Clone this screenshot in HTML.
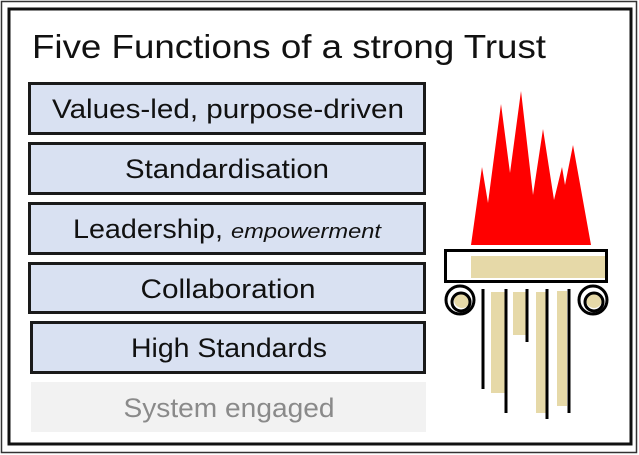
<!DOCTYPE html>
<html><head><style>html,body{margin:0;padding:0;background:#fff;}svg{display:block}</style></head>
<body>
<svg width="639" height="455" viewBox="0 0 639 455" xmlns="http://www.w3.org/2000/svg" font-family="'Liberation Sans', sans-serif">
<rect x="1.5" y="1.5" width="635" height="451" fill="none" stroke="#333" stroke-width="1.5"/>
<rect x="9" y="9" width="622" height="435" fill="none" stroke="#111" stroke-width="3"/>
<text x="32" y="58" font-size="33" fill="#111" textLength="514" lengthAdjust="spacingAndGlyphs">Five Functions of a strong Trust</text>
<g stroke="#1a1a1a" stroke-width="3" fill="#d9e1f2">
<rect x="29.5" y="83.5" width="395" height="50"/>
<rect x="29.5" y="143.5" width="395" height="50"/>
<rect x="29.5" y="203.5" width="395" height="50"/>
<rect x="29.5" y="263.5" width="395" height="49"/>
<rect x="31.5" y="322.5" width="393" height="50"/>
</g>
<rect x="31" y="382" width="395" height="50" fill="#f2f2f2"/>
<g font-size="27" fill="#111" text-anchor="middle">
<text x="228" y="118" textLength="352" lengthAdjust="spacingAndGlyphs">Values-led, purpose-driven</text>
<text x="227" y="178" textLength="204" lengthAdjust="spacingAndGlyphs">Standardisation</text>
<text x="228" y="298" textLength="175" lengthAdjust="spacingAndGlyphs">Collaboration</text>
<text x="229" y="357" textLength="196" lengthAdjust="spacingAndGlyphs">High Standards</text>
<text x="229" y="417" fill="#8a8a8a" textLength="211" lengthAdjust="spacingAndGlyphs">System engaged</text>
</g>
<text x="73" y="238" font-size="27" fill="#111" textLength="150" lengthAdjust="spacingAndGlyphs">Leadership,</text>
<text x="231" y="238" font-size="20" font-style="italic" fill="#111" textLength="150" lengthAdjust="spacingAndGlyphs">empowerment</text>
<polygon fill="#ff0000" points="471,245 482,167 488,203 501,104 510,173 521,91 533,195 543,129 554,200 562,167 565,185 573,145 591,245"/>
<rect x="445.5" y="250.5" width="161" height="31" fill="#fff" stroke="#000" stroke-width="3"/>
<rect x="471" y="256" width="134" height="22" fill="#e6d9a8"/>
<g fill="#e6d9a8">
<rect x="491" y="292" width="16" height="101"/>
<rect x="513" y="292" width="14" height="43"/>
<rect x="536" y="292" width="11" height="121"/>
<rect x="557" y="291" width="10" height="115"/>
<circle cx="462" cy="300" r="8"/>
<circle cx="594" cy="300" r="8"/>
</g>
<g stroke="#000" stroke-width="3" fill="none">
<circle cx="460" cy="300" r="14"/>
<circle cx="461" cy="302" r="9"/>
<circle cx="593" cy="300" r="14"/>
<circle cx="594" cy="302" r="9"/>
<line x1="483" y1="289" x2="483" y2="389"/>
<line x1="506" y1="289" x2="506" y2="413"/>
<line x1="527" y1="289" x2="527" y2="342"/>
<line x1="547" y1="289" x2="547" y2="419"/>
<line x1="569" y1="289" x2="569" y2="413"/>
</g>
</svg>
</body></html>
